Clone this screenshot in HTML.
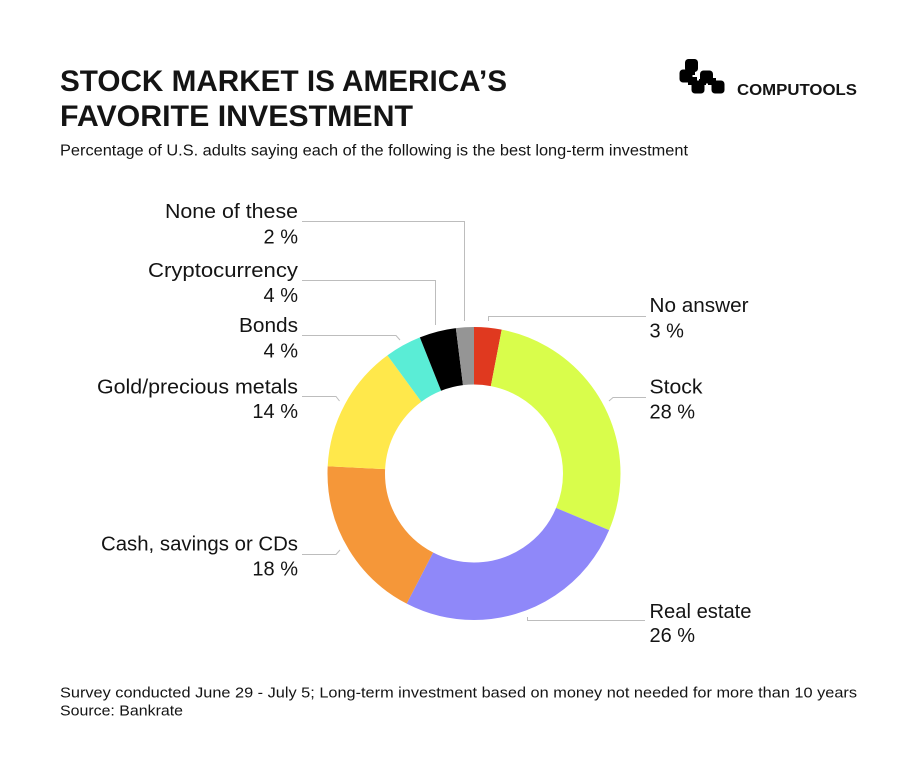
<!DOCTYPE html>
<html>
<head>
<meta charset="utf-8">
<style>
  html, body { margin: 0; padding: 0; background: #ffffff; }
  svg { display: block; }
  text { font-family: "Liberation Sans", sans-serif; fill: #141414; }
</style>
</head>
<body>
<svg width="920" height="777" viewBox="0 0 920 777" xmlns="http://www.w3.org/2000/svg">
  <rect x="0" y="0" width="920" height="777" fill="#ffffff"/>

  <!-- Title -->
  <text x="60" y="91" font-size="29.5" font-weight="bold" textLength="447" lengthAdjust="spacingAndGlyphs">STOCK MARKET IS AMERICA’S</text>
  <text x="60" y="126" font-size="29.5" font-weight="bold" textLength="353" lengthAdjust="spacingAndGlyphs">FAVORITE INVESTMENT</text>
  <text x="60" y="155.5" font-size="15.5" fill="#222" textLength="628" lengthAdjust="spacingAndGlyphs">Percentage of U.S. adults saying each of the following is the best long-term investment</text>

  <!-- Logo -->
  <g fill="#000">
    <rect x="685" y="59" width="13" height="13" rx="3.5"/>
    <rect x="679.5" y="69.5" width="13" height="13" rx="3.5"/>
    <rect x="686" y="67" width="9" height="8"/>
    <rect x="691.5" y="80.5" width="13" height="13" rx="3.5"/>
    <rect x="688" y="77" width="9" height="8"/>
    <rect x="700" y="70.5" width="13" height="13" rx="3.5"/>
    <rect x="699" y="79" width="7" height="6"/>
    <rect x="711.5" y="80.5" width="13" height="13" rx="3.5"/>
    <rect x="708" y="78" width="8" height="7"/>
  </g>
  <text x="737" y="95" font-size="15.5" font-weight="bold" fill="#000" textLength="120" lengthAdjust="spacingAndGlyphs">COMPUTOOLS</text>

  <!-- Donut -->
  <g transform="rotate(-90 474 473.5)" fill="none" stroke-width="57.5">
    <circle cx="474" cy="473.5" r="117.75" stroke="#e0391f" stroke-dasharray="22.419 739.84" stroke-dashoffset="0"/>
    <circle cx="474" cy="473.5" r="117.75" stroke="#d9fd4b" stroke-dasharray="209.247 739.84" stroke-dashoffset="-22.419"/>
    <circle cx="474" cy="473.5" r="117.75" stroke="#8f88f9" stroke-dasharray="194.301 739.84" stroke-dashoffset="-231.666"/>
    <circle cx="474" cy="473.5" r="117.75" stroke="#f59739" stroke-dasharray="134.516 739.84" stroke-dashoffset="-425.967"/>
    <circle cx="474" cy="473.5" r="117.75" stroke="#ffe84b" stroke-dasharray="104.623 739.84" stroke-dashoffset="-560.483"/>
    <circle cx="474" cy="473.5" r="117.75" stroke="#5aedd6" stroke-dasharray="29.892 739.84" stroke-dashoffset="-665.106"/>
    <circle cx="474" cy="473.5" r="117.75" stroke="#000000" stroke-dasharray="29.892 739.84" stroke-dashoffset="-694.998"/>
    <circle cx="474" cy="473.5" r="117.75" stroke="#959595" stroke-dasharray="14.946 739.84" stroke-dashoffset="-724.890"/>
  </g>

  <!-- Leader lines -->
  <g fill="none" stroke="#bdbdbd" stroke-width="1">
    <path d="M302 221.5 H464.5 V321"/>
    <path d="M302 280.5 H435.5 V325"/>
    <path d="M302 335.5 H396 L400 340"/>
    <path d="M302 396.5 H336 L339.5 401"/>
    <path d="M302 554.5 H336 L340 550"/>
    <path d="M488.5 321 V316.5 H646"/>
    <path d="M646 397.5 H613 L609 401"/>
    <path d="M527.5 617 V620.5 H645"/>
  </g>

  <!-- Left labels -->
  <g font-size="20" text-anchor="end">
    <text x="298" y="218" textLength="133" lengthAdjust="spacingAndGlyphs">None of these</text>
    <text x="298" y="243.5">2 %</text>
    <text x="298" y="277" textLength="150" lengthAdjust="spacingAndGlyphs">Cryptocurrency</text>
    <text x="298" y="302">4 %</text>
    <text x="298" y="332" textLength="59" lengthAdjust="spacingAndGlyphs">Bonds</text>
    <text x="298" y="357.5">4 %</text>
    <text x="298" y="393.5" textLength="201" lengthAdjust="spacingAndGlyphs">Gold/precious metals</text>
    <text x="298" y="418">14 %</text>
    <text x="298" y="550.5" textLength="197" lengthAdjust="spacingAndGlyphs">Cash, savings or CDs</text>
    <text x="298" y="575.5">18 %</text>
  </g>

  <!-- Right labels -->
  <g font-size="20">
    <text x="649.5" y="312" textLength="99" lengthAdjust="spacingAndGlyphs">No answer</text>
    <text x="649.5" y="337.5">3 %</text>
    <text x="649.5" y="393.5" textLength="53" lengthAdjust="spacingAndGlyphs">Stock</text>
    <text x="649.5" y="418.5">28 %</text>
    <text x="649.5" y="618" textLength="102" lengthAdjust="spacingAndGlyphs">Real estate</text>
    <text x="649.5" y="642">26 %</text>
  </g>

  <!-- Footer -->
  <text x="60" y="697.5" font-size="15" fill="#222" textLength="797" lengthAdjust="spacingAndGlyphs">Survey conducted June 29 - July 5; Long-term investment based on money not needed for more than 10 years</text>
  <text x="60" y="715.5" font-size="15" fill="#222" textLength="123" lengthAdjust="spacingAndGlyphs">Source: Bankrate</text>
</svg>
</body>
</html>
